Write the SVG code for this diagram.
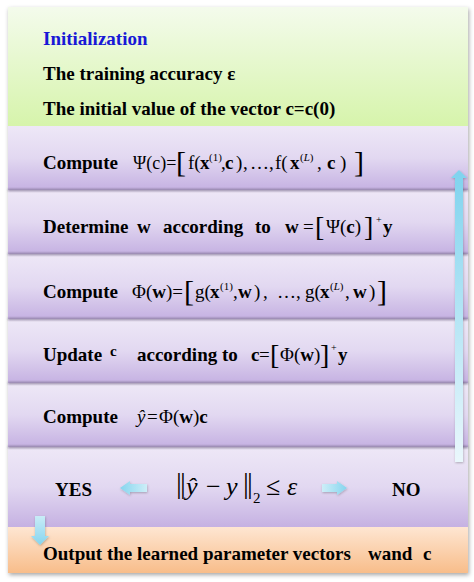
<svg xmlns="http://www.w3.org/2000/svg" width="474" height="582" viewBox="0 0 474 582">
<style>
.t{font-family:"Liberation Serif","Times New Roman",serif;font-size:19px;font-weight:bold;fill:#000}
.m{font-family:"Liberation Serif","Times New Roman",serif;font-size:19px;font-weight:normal;fill:#000}
.b{font-weight:bold}
.i{font-style:italic}
.sup{font-size:11px;font-weight:normal}
.br{font-size:30px;font-weight:normal}
.br2{font-size:28px;font-weight:normal}
.pl{font-size:10px}
.f{font-family:"Liberation Serif","Times New Roman",serif;font-size:26px;font-weight:normal;fill:#000}
.bar{font-size:29px;letter-spacing:-1.8px}
.sub{font-size:15px}
.sep{stroke:#7f7292;stroke-width:2;opacity:0.9}
</style>
<defs>
<linearGradient id="gGreen" x1="0" y1="0" x2="0" y2="1">
<stop offset="0" stop-color="#f4fbec"/><stop offset="1" stop-color="#d6f4ab"/>
</linearGradient>
<linearGradient id="gPurple" x1="0" y1="0" x2="0" y2="1">
<stop offset="0" stop-color="#eee8f7"/><stop offset="0.5" stop-color="#e2d8f1"/><stop offset="1" stop-color="#c5b1e2"/>
</linearGradient>
<linearGradient id="gOrange" x1="0" y1="0" x2="0" y2="1">
<stop offset="0" stop-color="#fee6d2"/><stop offset="1" stop-color="#f8bd8a"/>
</linearGradient>
<linearGradient id="gArrV" x1="0" y1="0" x2="0" y2="1">
<stop offset="0" stop-color="#7fd3ee"/><stop offset="1" stop-color="#eaf7fc"/>
</linearGradient>
<linearGradient id="gArrL" x1="0" y1="0" x2="1" y2="0">
<stop offset="0" stop-color="#86d5ee"/><stop offset="1" stop-color="#cdeef8"/>
</linearGradient>
<linearGradient id="gArrR" x1="0" y1="0" x2="1" y2="0">
<stop offset="0" stop-color="#cdeef8"/><stop offset="1" stop-color="#86d5ee"/>
</linearGradient>
<linearGradient id="gArrD" x1="0" y1="0" x2="0" y2="1">
<stop offset="0" stop-color="#c9ecf7"/><stop offset="1" stop-color="#86d5ee"/>
</linearGradient>
<filter id="sh" x="-5%" y="-5%" width="110%" height="110%">
<feDropShadow dx="1" dy="2" stdDeviation="2" flood-color="#000" flood-opacity="0.35"/>
</filter>
<filter id="blur" x="-5%" y="-200%" width="110%" height="500%">
<feGaussianBlur stdDeviation="0.8"/>
</filter>
<filter id="ash" x="-30%" y="-30%" width="160%" height="160%">
<feDropShadow dx="0.5" dy="1" stdDeviation="0.8" flood-color="#000" flood-opacity="0.25"/>
</filter>
</defs>

<rect x="0" y="0" width="474" height="582" fill="#ffffff"/>
<rect x="8" y="7" width="460" height="566" fill="#e6ddf3" filter="url(#sh)"/>

<g id="init">
<rect x="8" y="7" width="460" height="119" fill="url(#gGreen)"/>
<text x="43" y="45" class="t" style="fill:#1818d6">Initialization</text>
<text x="43" y="80" class="t">The training accuracy ε</text>
<text x="43" y="115" class="t">The initial value of the vector c=c(0)</text>
</g>

<g id="step1">
<rect x="8" y="126" width="460" height="64" fill="url(#gPurple)"/>
<text x="43" y="169" class="t">Compute</text>
<text y="169" class="m"><tspan x="133" style="font-size:18px">Ψ(c)=</tspan><tspan x="176" y="172" class="br">[</tspan><tspan x="188" y="169">f(</tspan><tspan x="200" class="b">x</tspan><tspan x="209" y="161" class="sup">(1)</tspan><tspan x="221" y="169">,</tspan><tspan x="225" class="b">c</tspan><tspan x="236">)</tspan><tspan x="243">,</tspan><tspan x="250">…</tspan><tspan x="269">,</tspan><tspan x="275">f(</tspan><tspan x="290" class="b">x</tspan><tspan x="300" y="161" class="sup">(<tspan class="i">L</tspan>)</tspan><tspan x="317" y="169">,</tspan><tspan x="327" class="b">c</tspan><tspan x="340">)</tspan><tspan x="354" y="172" class="br">]</tspan></text>
</g>

<g id="step2">
<rect x="8" y="190" width="460" height="64" fill="url(#gPurple)"/>
<text x="43" y="233" class="t">Determine</text>
<text x="137" y="233" class="t">w</text>
<text x="163" y="233" class="t">according</text>
<text x="255" y="233" class="t">to</text>
<text y="233" class="m"><tspan x="285" class="b">w</tspan><tspan x="303">=</tspan><tspan x="315" y="236" class="br2">[</tspan><tspan x="326" y="233">Ψ(</tspan><tspan class="b">c</tspan><tspan>)</tspan><tspan x="364" y="236" class="br2">]</tspan><tspan x="376" y="223" class="pl">+</tspan><tspan x="383" y="233" class="b">y</tspan></text>
</g>

<g id="step3">
<rect x="8" y="254" width="460" height="65" fill="url(#gPurple)"/>
<text x="43" y="298" class="t">Compute</text>
<text y="298" class="m"><tspan x="132">Φ(</tspan><tspan class="b">w</tspan><tspan>)=</tspan><tspan x="184" y="301" class="br">[</tspan><tspan x="195" y="298">g(</tspan><tspan x="210" class="b">x</tspan><tspan x="220" y="290" class="sup">(1)</tspan><tspan x="233" y="298">,</tspan><tspan x="238" class="b">w</tspan><tspan x="254">)</tspan><tspan x="263">,</tspan><tspan x="277">…</tspan><tspan x="296">,</tspan><tspan x="305">g(</tspan><tspan x="320" class="b">x</tspan><tspan x="330" y="290" class="sup">(<tspan class="i">L</tspan>)</tspan><tspan x="345" y="298">,</tspan><tspan x="353" class="b">w</tspan><tspan x="369">)</tspan><tspan x="377" y="301" class="br">]</tspan></text>
</g>

<g id="step4">
<rect x="8" y="319" width="460" height="64" fill="url(#gPurple)"/>
<text x="43" y="361" class="t">Update</text>
<text x="110" y="356" class="t" style="font-size:15px">c</text>
<text x="137" y="361" class="t">according to</text>
<text y="361" class="m"><tspan x="251" class="b">c</tspan><tspan x="259">=</tspan><tspan x="270" y="364" class="br2">[</tspan><tspan x="280" y="361">Φ(</tspan><tspan class="b">w</tspan><tspan>)</tspan><tspan x="320" y="364" class="br2">]</tspan><tspan x="331" y="351" class="pl">+</tspan><tspan x="338" y="361" class="b">y</tspan></text>
</g>

<g id="step5">
<rect x="8" y="383" width="460" height="64" fill="url(#gPurple)"/>
<text x="43" y="423" class="t">Compute</text>
<text y="423" class="m"><tspan x="137" class="i">ŷ</tspan><tspan x="147">=</tspan><tspan x="159">Φ(</tspan><tspan class="b">w</tspan><tspan>)</tspan><tspan class="b">c</tspan></text>
</g>

<g id="decision">
<rect x="8" y="447" width="460" height="80" fill="url(#gPurple)"/>
<text x="55" y="496" class="t">YES</text>
<text y="495" class="f"><tspan x="176" y="493" class="bar">||</tspan><tspan x="186" y="495" class="i">ŷ</tspan><tspan x="206">−</tspan><tspan x="226" class="i">y</tspan><tspan x="243" y="493" class="bar">||</tspan><tspan x="253" y="503" class="sub">2</tspan><tspan x="266" y="495">≤</tspan><tspan x="287" class="i">ε</tspan></text>
<text x="392" y="496" class="t">NO</text>
</g>

<g id="output">
<rect x="8" y="527" width="460" height="46" fill="url(#gOrange)"/>
<text x="43" y="560" class="t">Output the learned parameter vectors</text>
<text x="368" y="560" class="t">wand</text>
<text x="423" y="560" class="t">c</text>
</g>

<g id="separators" filter="url(#blur)">
<line class="sep" x1="8" y1="190" x2="468" y2="190"/>
<line class="sep" x1="8" y1="254" x2="468" y2="254"/>
<line class="sep" x1="8" y1="319" x2="468" y2="319"/>
<line class="sep" x1="8" y1="383" x2="468" y2="383"/>
<line class="sep" x1="8" y1="447" x2="468" y2="447"/>
</g>

<g id="connectors">
<polygon points="455,462 463,462 463,178 467,178 459,170 451,178 455,178" fill="url(#gArrV)" filter="url(#ash)"/>
<polygon points="120,488 130,481 130,484 147,484 147,492 130,492 130,495" fill="url(#gArrL)" filter="url(#ash)"/>
<polygon points="347,488 337,481 337,484 322,484 322,492 337,492 337,495" fill="url(#gArrR)" filter="url(#ash)"/>
<polygon points="35,516 45,516 45,536 49,536 40,545 31,536 35,536" fill="url(#gArrD)" filter="url(#ash)"/>
</g>
</svg>
